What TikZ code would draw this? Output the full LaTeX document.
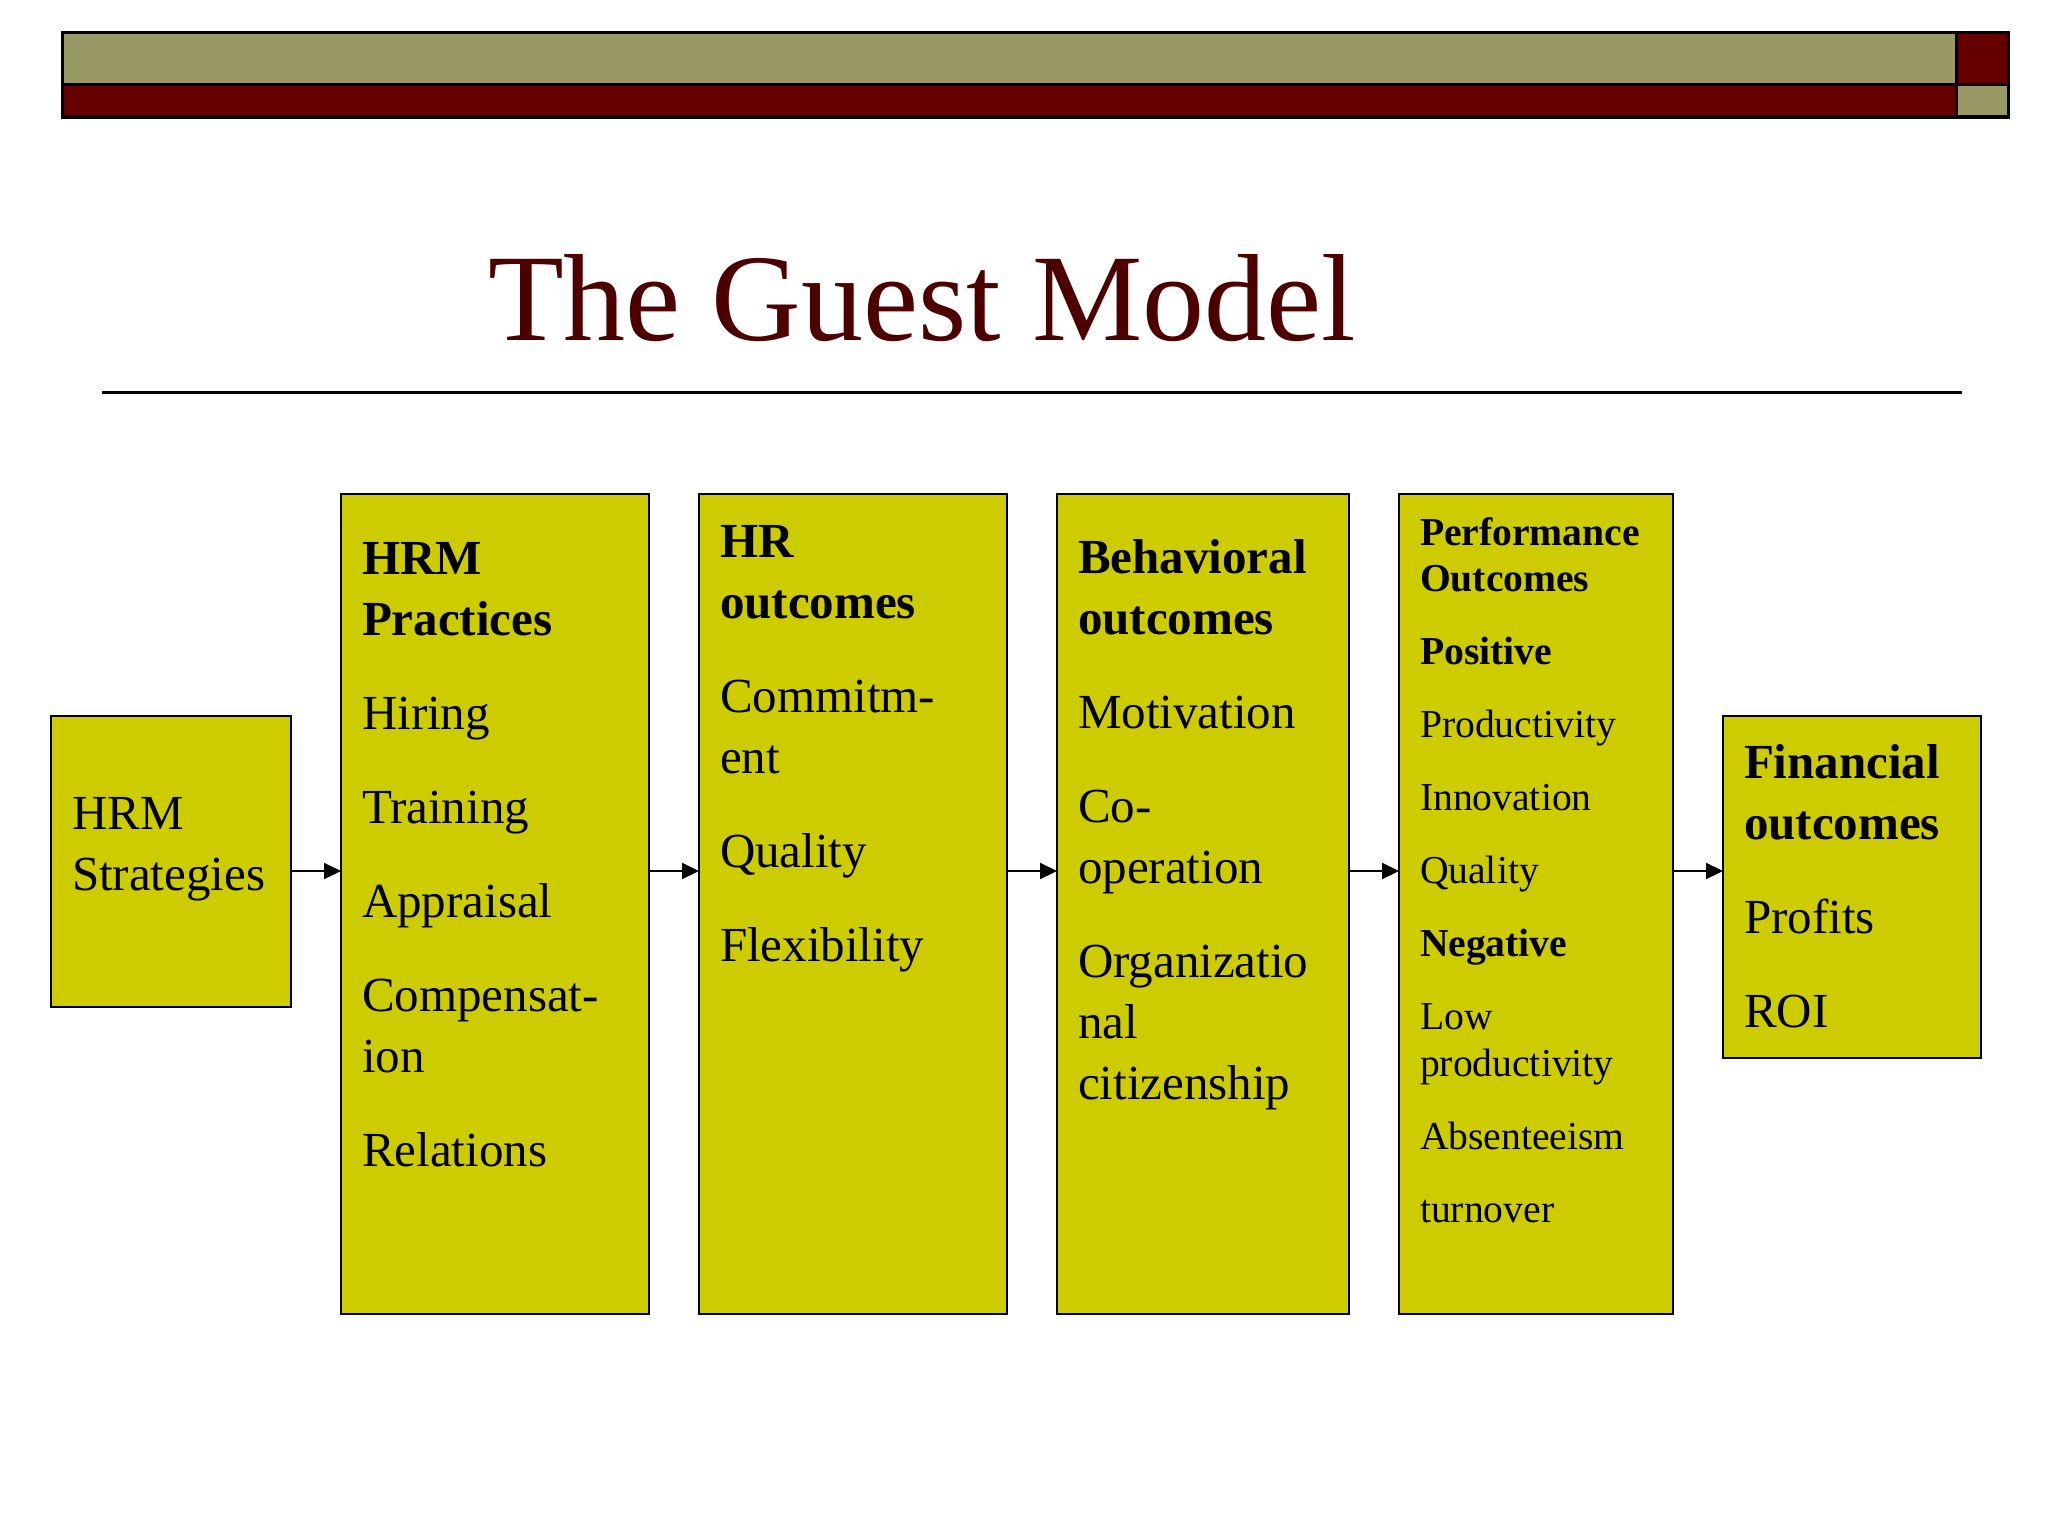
\documentclass[tikz,border=0pt]{standalone}
\usepackage{fontspec}
\setmainfont{Liberation Serif}
\usetikzlibrary{arrows.meta}
\usetikzlibrary{positioning}

\definecolor{barolive}{HTML}{999966}
\definecolor{barred}{HTML}{660000}
\definecolor{titlered}{HTML}{4D0000}
\definecolor{boxfill}{HTML}{CCCC00}

\begin{document}
\begin{tikzpicture}[x=0.5pt,y=-0.5pt,>={Triangle[length=8.5pt,width=8pt]},node distance=25pt,
                    main node/.style={rectangle,draw,fill=boxfill,line width=1.25pt,anchor=north west,
                                      align=left,inner xsep=10.5pt,inner ysep=0pt,outer sep=0pt,
                                      font=\fontsize{24.5}{30.5}\selectfont},
                    small node/.style={main node,font=\fontsize{19.8}{23.25}\selectfont}]

  \useasboundingbox (0,0) rectangle (2048,1536);

  % banner
  \filldraw[fill=barolive,line width=1.5pt] (62,33) rectangle (1956,85);
  \filldraw[fill=barred,line width=1.5pt] (62,85) rectangle (1956,117);
  \filldraw[fill=barred,line width=1.5pt] (1956,33) rectangle (2008,85);
  \filldraw[fill=barolive,line width=1.5pt] (1956,85) rectangle (2008,117);

  \node[anchor=base,text=titlered,font=\fontsize{62}{70}\selectfont] (title) at (922,340) {The Guest Model};
  \draw[line width=1.5pt] (102,392) -- (1962,392);

  \node[main node,text width=99pt,text height=56.5pt,text depth=89pt] (1) at (51,716) {HRM\\Strategies};
  \node[main node,text width=133pt,text height=40pt,text depth=370pt] (2) at (341,494)
    {\textbf{HRM}\\\textbf{Practices}\\[16.5pt]Hiring\\[16.5pt]Training\\[16.5pt]Appraisal\\[16.5pt]Compensat-\\ion\\[16.5pt]Relations};
  \node[main node,text width=133pt,text height=31.5pt,text depth=378.5pt] (3) [right=of 2.north east,anchor=north west]
    {\textbf{HR}\\\textbf{outcomes}\\[16.5pt]Commitm-\\ent\\[16.5pt]Quality\\[16.5pt]Flexibility};
  \node[main node,text width=125pt,text height=39.5pt,text depth=370.5pt] (4) [right=of 3.north east,anchor=north west]
    {\textbf{Behavioral}\\\textbf{outcomes}\\[16.5pt]Motivation\\[16.5pt]Co-\\operation\\[16.5pt]Organizatio\\nal\\citizenship};
  \node[small node,text width=116pt,text height=25.5pt,text depth=384.5pt] (5) [right=of 4.north east,anchor=north west]
    {\textbf{Performance}\\\textbf{Outcomes}\\[13.25pt]\textbf{Positive}\\[13.25pt]Productivity\\[13.25pt]Innovation\\[13.25pt]Quality\\[13.25pt]\textbf{Negative}\\[13.25pt]Low\\productivity\\[13.25pt]Absenteeism\\[13.25pt]turnover};
  \node[main node,text width=108pt,text height=31pt,text depth=140pt] (6) at (1723,716)
    {\textbf{Financial}\\\textbf{outcomes}\\[16.5pt]Profits\\[16.5pt]ROI};

  \coordinate (axis) at (0,871);
  \path[->,line width=1pt]
    (1.east |- axis) edge (2.west |- axis)
    (2.east |- axis) edge (3.west |- axis)
    (3.east |- axis) edge (4.west |- axis)
    (4.east |- axis) edge (5.west |- axis)
    (5.east |- axis) edge (6.west |- axis);
\end{tikzpicture}
\end{document}
